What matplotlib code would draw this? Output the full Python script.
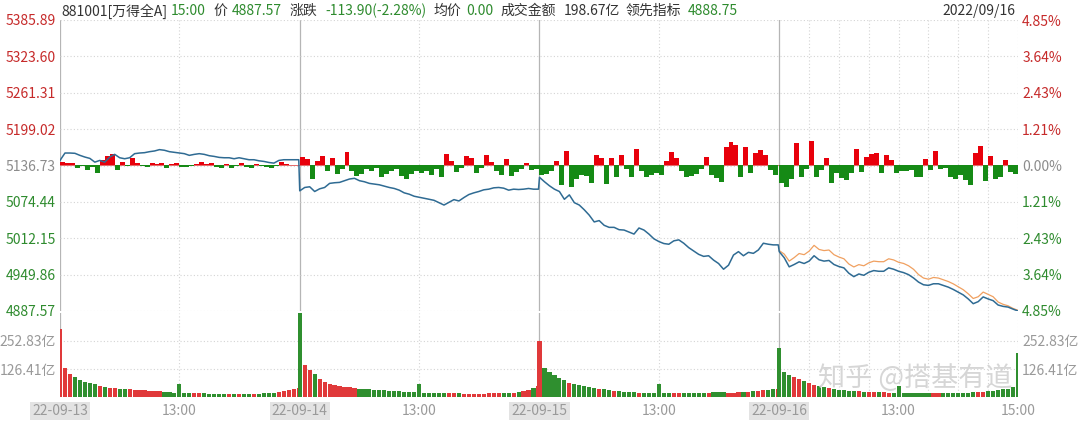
import numpy as np
import matplotlib
matplotlib.use("Agg")
import matplotlib.pyplot as plt

plt.rcParams['font.family'] = ['Noto Sans CJK SC', 'DejaVu Sans']

# ---------------- data ----------------
dates = ['22-09-13', '22-09-14', '22-09-15', '22-09-16']
BASE = 5136.73
MINUTES_PER_DAY = 241
sample_minutes = list(range(0, 241, 5))          # 09:30 .. 15:00, every 5 minutes

price_d1 = [5145.4, 5158.1, 5158.1, 5157.6, 5154.1, 5151.2, 5148.9, 5142.5, 5145.4, 5142.5,
            5151.2, 5155.8, 5150.0, 5148.3, 5150.0, 5157.0, 5158.1, 5158.7, 5160.4, 5161.6,
            5163.9, 5162.8, 5160.4, 5159.3, 5158.1, 5157.0, 5154.1, 5155.8, 5157.0, 5155.8,
            5153.5, 5152.3, 5150.6, 5150.0, 5150.0, 5148.3, 5150.0, 5148.3, 5146.6, 5146.6,
            5144.8, 5143.7, 5141.9, 5140.8, 5145.4, 5146.6, 5146.6, 5146.6, 5146.6]
price_d2 = [5093.3, 5099.1, 5100.3, 5092.2, 5096.8, 5099.1, 5106.1, 5107.2, 5107.8, 5110.7,
            5113.6, 5114.8, 5110.7, 5108.9, 5106.1, 5104.9, 5103.7, 5101.4, 5099.1, 5097.4,
            5094.5, 5089.9, 5087.6, 5084.1, 5082.4, 5080.6, 5078.9, 5077.1, 5073.1, 5069.0,
            5073.7, 5078.3, 5076.0, 5081.8, 5087.0, 5089.9, 5092.2, 5095.1, 5096.2, 5098.5,
            5099.1, 5097.9, 5094.5, 5096.2, 5095.6, 5096.2, 5097.4, 5096.2, 5096.2]
price_d3 = [5116.5, 5108.9, 5102.0, 5096.2, 5092.2, 5078.9, 5086.4, 5073.1, 5069.0, 5060.9,
            5051.7, 5040.1, 5042.4, 5034.3, 5030.8, 5030.8, 5026.8, 5026.2, 5022.7, 5019.3,
            5029.7, 5026.2, 5019.3, 5011.2, 5006.5, 5003.1, 5001.9, 5007.7, 5009.4, 5003.6,
            4996.1, 4990.3, 4984.6, 4981.1, 4982.2, 4974.7, 4968.9, 4959.1, 4966.0, 4983.4,
            4989.2, 4982.2, 4988.0, 4986.3, 4992.1, 5003.6, 5001.9, 5000.8, 5000.8]
price_d4 = [4989.2, 4978.8, 4963.2, 4967.2, 4971.8, 4968.9, 4973.0, 4982.2, 4975.3, 4973.0,
            4974.1, 4967.2, 4963.7, 4961.4, 4952.2, 4946.4, 4951.0, 4948.7, 4953.9, 4956.8,
            4955.6, 4955.6, 4961.4, 4959.1, 4955.6, 4953.3, 4949.8, 4944.1, 4937.1, 4932.5,
            4931.4, 4934.2, 4934.2, 4931.4, 4928.4, 4924.4, 4919.8, 4915.1, 4908.2, 4900.1,
            4903.6, 4911.7, 4908.2, 4905.3, 4897.8, 4895.5, 4894.3, 4890.8, 4887.57]
lead_d4 = [4991.0, 4985.0, 4973.0, 4979.0, 4986.0, 4984.0, 4990.0, 5000.0, 4993.0, 4991.0,
           4992.0, 4984.0, 4980.0, 4977.0, 4968.0, 4963.0, 4967.0, 4965.0, 4970.0, 4973.0,
           4972.0, 4972.0, 4977.0, 4975.0, 4971.0, 4969.0, 4965.0, 4959.0, 4950.0, 4944.0,
           4942.0, 4945.0, 4944.0, 4941.0, 4938.0, 4934.0, 4929.0, 4924.0, 4917.0, 4909.0,
           4912.0, 4920.0, 4916.0, 4912.0, 4903.0, 4899.0, 4896.5, 4892.0, 4888.75]

# long/short power indicator, 5-minute buckets (indicator units)
power_d1 = [3, 2, 2, -3, -1, -5, -2, -8, 5, 9, 11, -5, 3, -1, 7, 2, -1, -2, 2, 1, 2, -3, 1, 2,
            -2, -2, -1, 1, 3, 1, 2, -2, -3, 1, -3, -1, 2, -2, -3, 1, -1, -2, -3, -1, 3, 1, 0.5, 0.5]
power_d2 = [8, 6, -14, 4, 9, -6, 7, -9, -4, 13, -6, -11, -9, -4, -6, -3, -12, -9, -6, -4, -11, -14, -9, -6,
            -8, -6, -10, -4, -12, 11, 4, -7, -3, 9, 7, -8, -3, 10, 3, -6, -10, 6, -11, -7, -4, 2, -5, -4]
power_d3 = [-10, -9, -6, 4, -20, 14, -22, -14, -10, -11, -18, 10, 7, -19, 7, -12, 10, -4, -12, 16, -6, -12, -10, -8,
            -10, 4, 13, 7, -6, -12, -11, -9, -4, 8, -10, -13, -17, 18, 23, 20, -12, 18, -8, 12, 15, 10, -5, -10]
power_d4 = [-18, -22, -14, 22, -12, -4, 24, -12, -5, 7, -18, -8, -13, -15, -8, 16, -7, 8, 11, 12, -8, 10, 5, -8,
            -6, -6, -5, -12, -12, 6, -5, 14, -4, -3, -12, -14, -10, -15, -20, 12, 19, -16, 9, -14, -12, 5, -7, -9]

# turnover (亿) per sample
vol_d1 = [305, 130, 105, 90, 75, 68, 62, 58, 50, 46, 42, 40, 38, 36, 34, 33, 30, 30, 28, 27, 25, 24, 22, 20, 58,
          18, 17, 17, 16, 16, 15, 15, 15, 15, 14, 14, 14, 15, 15, 14, 15, 16, 17, 18, 22, 26, 30, 35, 40]
vol_d2 = [378, 145, 120, 105, 80, 68, 60, 55, 50, 46, 44, 42, 38, 36, 34, 32, 30, 30, 28, 27, 25, 24, 23, 22, 58,
          20, 19, 18, 18, 19, 18, 17, 16, 15, 15, 15, 15, 15, 16, 16, 17, 17, 18, 20, 24, 28, 33, 40, 48]
vol_d3 = [255, 130, 115, 100, 85, 75, 65, 58, 52, 48, 44, 40, 36, 34, 32, 28, 26, 24, 22, 21, 20, 20, 19, 19, 58,
          17, 17, 16, 16, 16, 17, 18, 19, 20, 20, 21, 22, 22, 20, 20, 21, 22, 24, 26, 28, 30, 32, 35, 38]
vol_d4 = [223, 115, 100, 90, 80, 70, 62, 55, 50, 45, 40, 36, 33, 30, 28, 26, 25, 24, 23, 22, 22, 21, 20, 20, 50,
          18, 18, 17, 17, 17, 17, 17, 18, 18, 18, 19, 19, 20, 20, 21, 22, 24, 26, 28, 30, 34, 38, 44, 199]

price_levels = [5385.89, 5323.60, 5261.31, 5199.02, 5136.73, 5074.44, 5012.15, 4949.86, 4887.57]
pct_labels = ['4.85%', '3.64%', '2.43%', '1.21%', '0.00%', '1.21%', '2.43%', '3.64%', '4.85%']
vol_levels = [126.41, 252.83]
vol_labels = ['126.41亿', '252.83亿']
VOL_MAX = 379.24
POWER_RANGE = 145.5

header = [('881001[万得全A]', '#333333', 61), ('15:00', '#2e8b2e', 171), ('价', '#333333', 213),
          ('4887.57', '#2e8b2e', 232), ('涨跌', '#333333', 290), ('-113.90(-2.28%)', '#2e8b2e', 325),
          ('均价', '#333333', 433), ('0.00', '#2e8b2e', 466), ('成交金额', '#333333', 500),
          ('198.67亿', '#333333', 564), ('领先指标', '#333333', 626), ('4888.75', '#2e8b2e', 688)]
header_date = '2022/09/16'

# ---------------- figure ----------------
W, H = 1080, 423
fig = plt.figure(figsize=(W / 100, H / 100), dpi=100)
L, R = 60, 1018


def rect(top, bottom):
    return [L / W, 1 - bottom / H, (R - L) / W, (bottom - top) / H]


RED = '#c62a2a'
GREEN = '#2e8b2e'
GRAY = '#8c8c8c'
GRID = '#d4d4d4'

ax = fig.add_axes(rect(20, 311), label='price')
axb = fig.add_axes(rect(20, 311), label='power', facecolor='none')
axl = fig.add_axes(rect(20, 311), label='line', facecolor='none')
axv = fig.add_axes(rect(313, 397), label='vol')

XMAX = 3 * MINUTES_PER_DAY + 240
ylo, yhi = price_levels[-1], price_levels[0]
for a in (ax, axb, axl, axv):
    a.set_xlim(0, XMAX)
    for s in a.spines.values():
        s.set_visible(False)
ax.set_ylim(ylo, yhi)
axl.set_ylim(ylo, yhi)
axb.set_ylim(-POWER_RANGE, POWER_RANGE)
axv.set_ylim(0, VOL_MAX)
axb.axis('off')
axl.axis('off')

# grid lines
dot = (0, (1, 2))
for a in (ax, axv):
    for d in range(4):
        a.axvline(d * MINUTES_PER_DAY, color='#b5b5b5', lw=0.9, zorder=1)
        a.axvline(d * MINUTES_PER_DAY + 120, color=GRID, lw=0.8, ls=dot, zorder=1)
    for m in (30, 60, 90, 150, 180, 210):
        a.axvline(3 * MINUTES_PER_DAY + m, color=GRID, lw=0.8, ls=dot, zorder=1)
    a.axvline(XMAX, color=GRID, lw=0.8, ls=dot, zorder=1)
for p in price_levels:
    ax.axhline(p, color=GRID, lw=0.8, ls=dot, zorder=1)
for v in vol_levels:
    axv.axhline(v, color=GRID, lw=0.8, ls=dot, zorder=1)

# power bars
power = np.concatenate([power_d1, power_d2, power_d3, power_d4])
px = np.concatenate([d * MINUTES_PER_DAY + 2.5 + 5 * np.arange(48) for d in range(4)])
axb.bar(px, power, width=5, color=np.where(power >= 0, '#e8000b', '#158a15'), linewidth=0)
axb.axhline(0, color='#e05050', lw=0.6, zorder=0)

# price line
xs = np.concatenate([d * MINUTES_PER_DAY + np.array(sample_minutes) for d in range(4)])
price = np.concatenate([price_d1, price_d2, price_d3, price_d4])
x4 = 3 * MINUTES_PER_DAY + np.array(sample_minutes)
axl.plot(x4, lead_d4, color='#f0a060', lw=0.9, zorder=3)
axl.plot(xs, price, color='#2f6b93', lw=1.1, zorder=4)

# volume
vol = np.concatenate([vol_d1, vol_d2, vol_d3, vol_d4])
chg = np.diff(np.concatenate([[BASE], price]))
axv.bar(xs, vol, width=4.2, color=np.where(chg >= 0, '#e0393a', '#2f8f2f'), linewidth=0, zorder=2)

# y tick labels (left)
ax.set_yticks(price_levels)
ax.set_yticklabels([f'{p:.2f}' for p in price_levels])
for lbl, p in zip(ax.get_yticklabels(), price_levels):
    lbl.set_color(RED if p > BASE + 0.001 else (GREEN if p < BASE - 0.001 else GRAY))
ax.tick_params(axis='y', length=0, pad=3, labelsize=10)
ax.set_xticks([])

axr = ax.twinx()
for s in axr.spines.values():
    s.set_visible(False)
pct_vals = [(p / BASE - 1) * 100 for p in price_levels]
axr.set_ylim((ylo / BASE - 1) * 100, (yhi / BASE - 1) * 100)
axr.set_yticks(pct_vals)
axr.set_yticklabels(pct_labels)
for lbl, v in zip(axr.get_yticklabels(), pct_vals):
    lbl.set_color(RED if v > 0.001 else (GREEN if v < -0.001 else GRAY))
axr.tick_params(axis='y', length=0, pad=3, labelsize=10)

axv.set_yticks(vol_levels)
axv.set_yticklabels(vol_labels)
axv.tick_params(axis='y', length=0, pad=3, labelsize=10, labelcolor='#999999')
axvr = axv.twinx()
for s in axvr.spines.values():
    s.set_visible(False)
axvr.set_ylim(0, VOL_MAX)
axvr.set_yticks(vol_levels)
axvr.set_yticklabels(vol_labels)
axvr.tick_params(axis='y', length=0, pad=3, labelsize=10, labelcolor='#999999')

# x tick labels
xt, xl = [], []
for d in range(4):
    xt += [d * MINUTES_PER_DAY, d * MINUTES_PER_DAY + 120]
    xl += [dates[d], '13:00']
xt.append(XMAX)
xl.append('15:00')
axv.set_xticks(xt)
axv.set_xticklabels(xl)
axv.tick_params(axis='x', length=0, pad=5, labelsize=10, labelcolor='#9a9a9a')
for lbl in axv.get_xticklabels():
    if lbl.get_text() in dates:
        lbl.set_bbox(dict(facecolor='#e3e3e3', edgecolor='none', pad=1.6))

# header
for txt, col, xpx in header:
    fig.text(xpx / W, 1 - 11 / H, txt, color=col, fontsize=10, ha='left', va='center')
fig.text(1015 / W, 1 - 11 / H, header_date, color='#333333', fontsize=10, ha='right', va='center')

# watermark
fig.text(818 / W, 1 - 378 / H, '知乎 @搭基有道', color='#d2d2d2', fontsize=19.5, ha='left', va='center',
         alpha=0.9, zorder=10)

fig.savefig('out.png', dpi=100)
